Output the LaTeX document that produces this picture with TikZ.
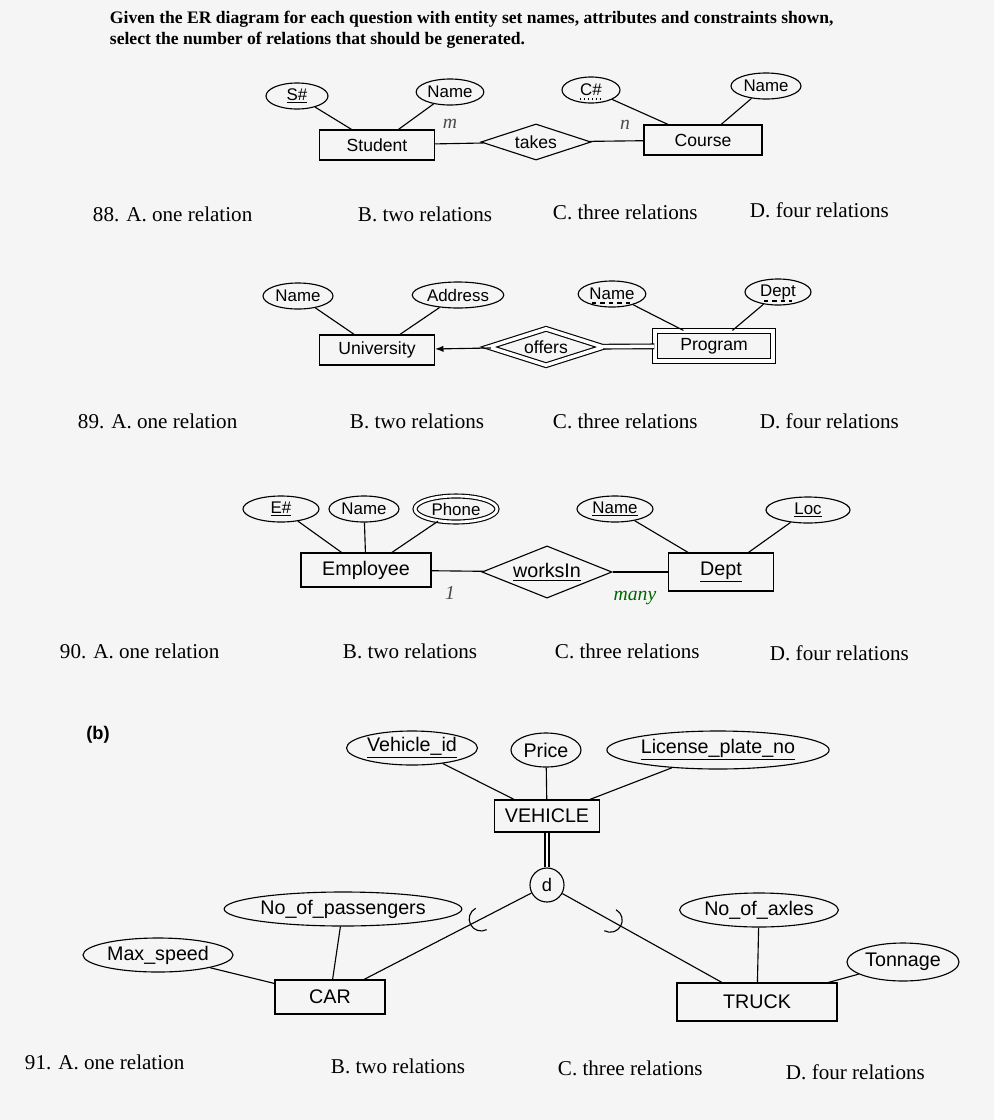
\documentclass[tikz,border=0pt]{standalone}
\usepackage{fontspec}
\setmainfont{Liberation Serif}
\setsansfont{Liberation Sans}
\usetikzlibrary{shapes.geometric,arrows.meta}
\begin{document}
\begin{tikzpicture}[x=0.025cm,y=-0.025cm,
  ent/.style={draw,thick,font=\sffamily\fontsize{12.5}{14}\selectfont,minimum width=#1*0.025cm,minimum height=30*0.025cm,inner sep=1pt},
  att/.style={draw,thick,ellipse,font=\sffamily\fontsize{12}{14}\selectfont,minimum width=#1*0.025cm,minimum height=26*0.025cm,inner sep=1pt},
  rel/.style={draw,thick,diamond,aspect=2.2,font=\sffamily\fontsize{12.5}{14}\selectfont,minimum width=#1*0.025cm,inner sep=1pt},
  ans/.style={anchor=west,font=\fontsize{15}{18}\selectfont},
  hand/.style={font=\itshape\fontsize{14}{16}\selectfont,text=black!70},
  ln/.style={thick}]
\fill[black!4] (0,0) rectangle (994,1120);
\useasboundingbox (0,0) rectangle (994,1120);
\node[anchor=west,font=\bfseries\fontsize{12.5}{15}\selectfont,align=left] (hdr) at (105,30)
 {Given the ER diagram for each question with entity set names, attributes and constraints shown,\\select the number of relations that should be generated.};
% 88
\node[att=62] (s) at (297,96) {\underline{S\#}};
\node[att=62] (sn) at (450,92) {Name};
\node[ent=115] (st) at (377,145) {Student};
\node[rel=110] (tk) at (536,142) {takes};
\node[att=58] (c) at (591,90) {C\#};
\draw[dotted,thick] (580,99) -- (602,99);
\node[att=70] (cn) at (766,86) {Name};
\node[ent=118] (co) at (703,140) {Course};
\draw[ln] (s) -- (st); \draw[ln] (sn) -- (st); \draw[ln] (st) -- (tk); \draw[ln] (tk) -- (co);
\draw[ln] (c) -- (co); \draw[ln] (cn) -- (co);
\node[hand] (hm) at (450,124) {m};
\node[hand] (hn) at (625,125) {n};
\node[ans] (a88) at (88,214) {88. A. one relation};
\node[ans] (b88) at (353,214) {B. two relations};
\node[ans] (c88) at (548,212) {C. three relations};
\node[ans] (d88) at (745,210) {D. four relations};
% 89
\node[att=70] (un) at (298,296) {Name};
\node[att=66] (ua) at (458,295) {Address};
\node[att=62] (pn) at (612,294) {Name};
\draw[dashed,thick] (592,303) -- (632,303);
\node[att=66] (pd) at (778,292) {Dept};
\draw[dashed,thick] (764,301) -- (792,301);
\node[ent=115] (uni) at (377,350) {University};
\node[rel=115,double,double distance=2.5pt] (of) at (546,347) {offers};
\node[ent=118,double,double distance=2.5pt] (pr) at (714,346) {Program};
\draw[ln] (un) -- (uni); \draw[ln] (ua) -- (uni); \draw[ln] (pn) -- (pr); \draw[ln] (pd) -- (pr);
\draw[ln,-{Latex[length=6pt]}] (of) -- (uni);
\draw[thick,double,double distance=2.5pt] (of) -- (pr);
\node[ans] (a89) at (73,421) {89. A. one relation};
\node[ans] (b89) at (345,421) {B. two relations};
\node[ans] (c89) at (548,421) {C. three relations};
\node[ans] (d89) at (755,421) {D. four relations};
% 90
\node[att=76] (eid) at (281,509) {\underline{E\#}};
\node[att=70] (en) at (364,509) {Name};
\node[att=82,double,double distance=2pt] (ep) at (456,509) {Phone};
\node[att=76] (dn) at (615,509) {\underline{Name}};
\node[att=84] (dl) at (808,510) {\underline{Loc}};
\node[ent=130,minimum height=34*0.025cm] (emp) at (366,570) {\fontsize{14}{16}\selectfont Employee};
\node[rel=130] (wi) at (547,572) {\fontsize{14}{16}\selectfont\underline{worksIn}};
\node[ent=105,minimum height=38*0.025cm] (dp) at (721,572) {\fontsize{14}{16}\selectfont\underline{Dept}};
\draw[ln] (eid) -- (emp); \draw[ln] (en) -- (emp); \draw[ln] (ep) -- (emp);
\draw[ln] (dn) -- (dp); \draw[ln] (dl) -- (dp);
\draw[ln] (emp) -- (wi); \draw[ln] (wi) -- (dp);
\node[hand] (h1) at (450,593) {1};
\node[hand,text=green!40!black] (hmany) at (635,598) {many};
\node[ans] (a90) at (55,651) {90. A. one relation};
\node[ans] (b90) at (338,651) {B. two relations};
\node[ans] (c90) at (550,651) {C. three relations};
\node[ans] (d90) at (765,653) {D. four relations};
% (b)
\node[font=\sffamily\bfseries\fontsize{13}{15}\selectfont] (bl) at (98,735) {(b)};
\node[att=122,minimum height=34*0.025cm] (vid) at (412,748) {\fontsize{14}{16}\selectfont\underline{Vehicle\_id}};
\node[att=70,minimum height=34*0.025cm] (vp) at (546,750) {\fontsize{14}{16}\selectfont Price};
\node[att=180,minimum height=38*0.025cm] (vl) at (718,750) {\fontsize{14}{16}\selectfont\underline{License\_plate\_no}};
\node[ent=105,minimum height=32*0.025cm] (veh) at (547,816) {\fontsize{14}{16}\selectfont VEHICLE};
\node[draw,thick,circle,minimum size=34*0.025cm,inner sep=0pt,font=\sffamily\fontsize{13}{15}\selectfont] (d) at (547,885) {d};
\node[att=230,minimum height=34*0.025cm] (np) at (343,909) {\fontsize{14}{16}\selectfont No\_of\_passengers};
\node[att=150,minimum height=34*0.025cm] (ms) at (158,955) {\fontsize{14}{16}\selectfont Max\_speed};
\node[ent=110,minimum height=34*0.025cm] (car) at (330,997) {\fontsize{14}{16}\selectfont CAR};
\node[att=150,minimum height=34*0.025cm] (na) at (759,910) {\fontsize{14}{16}\selectfont No\_of\_axles};
\node[att=112,minimum height=38*0.025cm] (tn) at (903,962) {\fontsize{14}{16}\selectfont Tonnage};
\node[ent=160,minimum height=38*0.025cm] (tr) at (757,1002) {\fontsize{14}{16}\selectfont TRUCK};
\draw[ln] (vid) -- (veh); \draw[ln] (vp) -- (veh); \draw[ln] (vl) -- (veh);
\draw[thick,double,double distance=2pt] (veh) -- (d);
\draw[ln] (d) -- (car) coordinate[pos=0.3] (pc);
\draw[ln] (d) -- (tr) coordinate[pos=0.3] (pt);
\begin{scope}[x=1cm,y=1cm]
\draw[thick] (pc) ++(117.3:0.3cm) arc[start angle=117.3,end angle=297.3,radius=0.3cm];
\draw[thick] (pt) ++(61:0.3cm) arc[start angle=61,end angle=-119,radius=0.3cm];
\end{scope}
\draw[ln] (np) -- (car); \draw[ln] (ms) -- (car);
\draw[ln] (na) -- (tr); \draw[ln] (tn) -- (tr);
\node[ans] (a91) at (20,1062) {91. A. one relation};
\node[ans] (b91) at (326,1066) {B. two relations};
\node[ans] (c91) at (553,1068) {C. three relations};
\node[ans] (d91) at (781,1072) {D. four relations};
\end{tikzpicture}
\end{document}
